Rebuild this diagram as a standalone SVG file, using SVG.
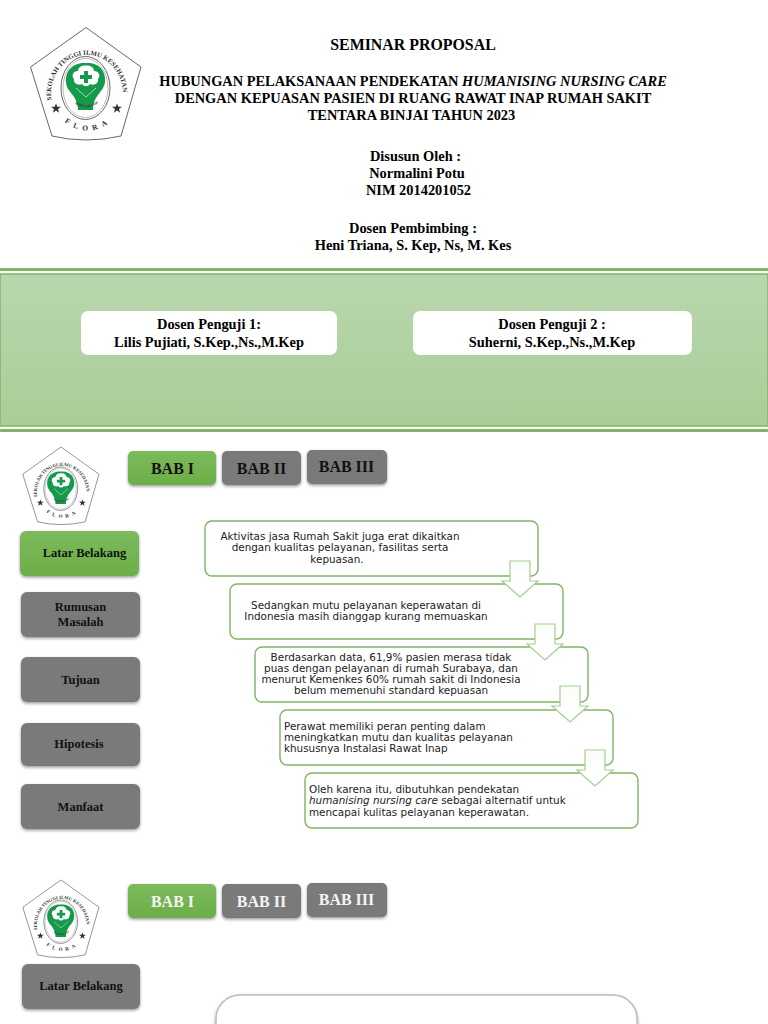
<svg xmlns="http://www.w3.org/2000/svg" xmlns:xlink="http://www.w3.org/1999/xlink" width="768" height="1024" viewBox="0 0 768 1024">
<style>
.t{font-family:"Liberation Serif","Times New Roman",serif;font-weight:700;font-size:14.4px;fill:#000;text-anchor:middle}
.tab{font-family:"Liberation Serif",serif;font-weight:700;font-size:16px;text-anchor:middle;fill:#111}
.tw{fill:#f4f4f4}
.side{font-family:"Liberation Serif",serif;font-weight:700;font-size:12.5px;text-anchor:middle;fill:#111}
.b{font-family:"DejaVu Sans",sans-serif;font-size:10.4px;fill:#222}
.m{text-anchor:middle}
.fb{fill:#fff;stroke:#7fb565;stroke-width:1.4}
.ar{fill:url(#ag);stroke:#a5cf91;stroke-width:1.2}
.gr{fill:#7a7a7a;filter:url(#sh)}
.gn{fill:url(#gg);filter:url(#sh)}
.rule{fill:#7fb565}
.lt{font-family:"Liberation Serif",serif;font-weight:700;fill:#333}
</style>
<defs>
<linearGradient id="pg" x1="0" y1="0" x2="0" y2="1"><stop offset="0" stop-color="#b9d7ae"/><stop offset="1" stop-color="#a9cd97"/></linearGradient>
<linearGradient id="gg" x1="0" y1="0" x2="0" y2="1"><stop offset="0" stop-color="#7cba5c"/><stop offset="1" stop-color="#6cae48"/></linearGradient>
<linearGradient id="ag" x1="0" y1="0" x2="0" y2="1"><stop offset="0" stop-color="#fafcf8"/><stop offset="0.5" stop-color="#ffffff"/><stop offset="1" stop-color="#ffffff"/></linearGradient>
<filter id="sh" x="-15%" y="-20%" width="130%" height="150%"><feDropShadow dx="0" dy="1.5" stdDeviation="1.4" flood-color="#000" flood-opacity="0.4"/></filter>
<path id="arc" d="M52 103A36 39 0 1 1 122 103"/>
<path id="arcb" d="M60 118Q87 143 116 118"/>
<path id="arcs" d="M74 103Q86 112 98 103"/>
<g id="logo">
<path d="M86 27.500L141 67 121 136Q86 144 52 136L30.500 67Z" fill="#fff" stroke="#555" stroke-width="0.9"/>
<ellipse cx="85.500" cy="88" rx="24.500" ry="31.500" fill="#fff" stroke="#555" stroke-width="0.9"/>
<ellipse cx="85.500" cy="88" rx="22.500" ry="29.500" fill="none" stroke="#777" stroke-width="0.5"/>
<path d="M86 63C100 62 106 72 105 82C104 92 93 95 93 110L78 110C78 95 66 92 66 82C65 72 72 62 86 63Z" fill="#159a4b"/>
<path d="M76 88L86 97 96 88" fill="none" stroke="#e8f5ec" stroke-width="0.7"/>
<path d="M86 65.500C91 65 94 68 94 71C99 71 101 76 98 79C99 83 94 86 90 84C88 87 84 87 82 84C78 86 73 83 74 79C71 76 73 71 78 71C78 68 81 65 86 65.500Z" fill="#fff"/>
<path d="M84 71H88V75H92V79H88V83H84V79H80V75H84Z" fill="#159a4b"/>
<text font-size="6.700" class="lt"><textPath xlink:href="#arc" href="#arc" startOffset="3">SEKOLAH TINGGI ILMU KESEHATAN</textPath></text>
<path d="M56 103.500l1.300 3.300 3.700 0-3 2.300 1.100 3.600-3.100-2.200-3.100 2.200 1.100-3.600-3-2.300 3.700 0z" fill="#333"/>
<path d="M117 103.500l1.300 3.300 3.700 0-3 2.300 1.100 3.600-3.100-2.200-3.100 2.200 1.100-3.600-3-2.300 3.700 0z" fill="#333"/>
<text font-size="7.500" letter-spacing="5" class="lt"><textPath xlink:href="#arcb" href="#arcb" startOffset="6">FLORA</textPath></text>
<text font-size="3.600" class="lt"><textPath xlink:href="#arcs" href="#arcs" startOffset="1">BAKTI HUSADA</textPath></text>
</g>
</defs>
<rect width="768" height="1024" fill="#fff"/>

<g id="logo-top"><use href="#logo" xlink:href="#logo"/></g>
<g id="title">
<text class="t" x="413" y="50" style="font-size:15.9px">SEMINAR PROPOSAL</text>
<text class="t" x="413" y="86">HUBUNGAN PELAKSANAAN PENDEKATAN <tspan font-style="italic">HUMANISING NURSING CARE</tspan></text>
<text class="t" x="413" y="103">DENGAN KEPUASAN PASIEN DI RUANG RAWAT INAP RUMAH SAKIT</text>
<text class="t" x="411.500" y="120">TENTARA BINJAI TAHUN 2023</text>
<text class="t" x="415.500" y="161">Disusun Oleh :</text>
<text class="t" x="417" y="178">Normalini Potu</text>
<text class="t" x="418.500" y="195">NIM 2014201052</text>
<text class="t" x="413" y="233">Dosen Pembimbing :</text>
<text class="t" x="413" y="250">Heni Triana, S. Kep, Ns, M. Kes</text>
</g>

<g id="panel">
<rect class="rule" x="0" y="268" width="768" height="3"/>
<rect x="0" y="274" width="768" height="152" fill="url(#pg)" stroke="#7fb565" stroke-width="1.500"/>
<rect class="rule" x="0" y="429" width="768" height="3"/>
</g>
<g id="penguji-1">
<rect x="81" y="311" width="256" height="44" rx="7" fill="#fff"/>
<text class="t" x="209" y="329">Dosen Penguji 1:</text>
<text class="t" x="209" y="347">Lilis Pujiati, S.Kep.,Ns.,M.Kep</text>
</g>
<g id="penguji-2">
<rect x="413" y="311" width="279" height="44" rx="7" fill="#fff"/>
<text class="t" x="552" y="329">Dosen Penguji 2 :</text>
<text class="t" x="552" y="347">Suherni, S.Kep.,Ns.,M.Kep</text>
</g>

<g id="logo-mid"><use href="#logo" xlink:href="#logo" transform="translate(1.700 428) scale(0.69)"/></g>
<g id="tab-1"><rect class="gn" x="128" y="451" width="88" height="34" rx="5"/><text class="tab" x="172.500" y="474">BAB I</text></g>
<g id="tab-2"><rect class="gr" x="222" y="451" width="79" height="34" rx="5"/><text class="tab" x="261.500" y="474">BAB II</text></g>
<g id="tab-3"><rect class="gr" x="307" y="450" width="80" height="34" rx="5"/><text class="tab" x="346.500" y="472">BAB III</text></g>
<g id="side-latar"><rect class="gn" x="20" y="531" width="119" height="45" rx="6"/><text class="side" x="84.500" y="557">Latar Belakang</text></g>
<g id="side-rumusan"><rect class="gr" x="21" y="592" width="119" height="45" rx="6"/><text class="side" x="80.500" y="611">Rumusan</text><text class="side" x="80.500" y="626">Masalah</text></g>
<g id="side-tujuan"><rect class="gr" x="21" y="657" width="119" height="45" rx="6"/><text class="side" x="80.500" y="684">Tujuan</text></g>
<g id="side-hipotesis"><rect class="gr" x="21" y="723" width="119" height="43" rx="6"/><text class="side" x="79" y="748">Hipotesis</text></g>
<g id="side-manfaat"><rect class="gr" x="21" y="784" width="119" height="45" rx="6"/><text class="side" x="80.500" y="811">Manfaat</text></g>

<g id="step-1"><rect class="fb" x="205" y="521" width="333" height="55" rx="7"/>
<text class="b m" x="340" y="540">Aktivitas jasa Rumah Sakit juga erat dikaitkan</text>
<text class="b m" x="340" y="551">dengan kualitas pelayanan, fasilitas serta</text>
<text class="b m" x="337" y="563">kepuasan.</text></g>
<g id="step-2"><rect class="fb" x="230" y="584" width="333" height="55" rx="7"/>
<text class="b m" x="366" y="609">Sedangkan mutu pelayanan keperawatan di</text>
<text class="b m" x="366" y="620">Indonesia masih dianggap kurang memuaskan</text></g>
<g id="step-3"><rect class="fb" x="255" y="647" width="333" height="55" rx="7"/>
<text class="b m" x="391" y="661">Berdasarkan data, 61,9% pasien merasa tidak</text>
<text class="b m" x="391" y="672">puas dengan pelayanan di rumah Surabaya, dan</text>
<text class="b m" x="391" y="683">menurut Kemenkes 60% rumah sakit di Indonesia</text>
<text class="b m" x="391" y="694">belum memenuhi standard kepuasan</text></g>
<g id="step-4"><rect class="fb" x="280" y="710" width="333" height="55" rx="7"/>
<text class="b" x="284" y="730">Perawat memiliki peran penting dalam</text>
<text class="b" x="284" y="741">meningkatkan mutu dan kualitas pelayanan</text>
<text class="b" x="284" y="752">khususnya Instalasi Rawat Inap</text></g>
<g id="step-5"><rect class="fb" x="305" y="773" width="333" height="55" rx="7"/>
<text class="b" x="309" y="793">Oleh karena itu, dibutuhkan pendekatan</text>
<text class="b" x="309" y="804"><tspan font-style="italic">humanising nursing care</tspan> sebagai alternatif untuk</text>
<text class="b" x="309" y="816">mencapai kulitas pelayanan keperawatan.</text></g>

<g id="connectors">
<path class="ar" d="M510 561H530V581H538L520 597 502 581H510Z"/>
<path class="ar" d="M535 624H555V644H563L545 660 527 644H535Z"/>
<path class="ar" d="M560 686H580V706H588L570 722 552 706H560Z"/>
<path class="ar" d="M585 750H605V770H613L595 786 577 770H585Z"/>
</g>

<g id="logo-bottom"><use href="#logo" xlink:href="#logo" transform="translate(1.700 861) scale(0.69)"/></g>
<g id="tab2-1"><rect class="gn" x="128" y="884" width="88" height="34" rx="5"/><text class="tab tw" x="172.500" y="907">BAB I</text></g>
<g id="tab2-2"><rect class="gr" x="222" y="884" width="79" height="34" rx="5"/><text class="tab tw" x="261.500" y="907">BAB II</text></g>
<g id="tab2-3"><rect class="gr" x="307" y="883" width="80" height="34" rx="5"/><text class="tab tw" x="346.500" y="905">BAB III</text></g>
<g id="side2-latar"><rect class="gr" x="22" y="964" width="118" height="45" rx="6"/><text class="side tw" x="81" y="990">Latar Belakang</text></g>
<g id="card"><rect x="216" y="995" width="421" height="80" rx="24" fill="#fff" stroke="#bdbdbd" stroke-width="1.500" filter="url(#sh)"/></g>
</svg>
